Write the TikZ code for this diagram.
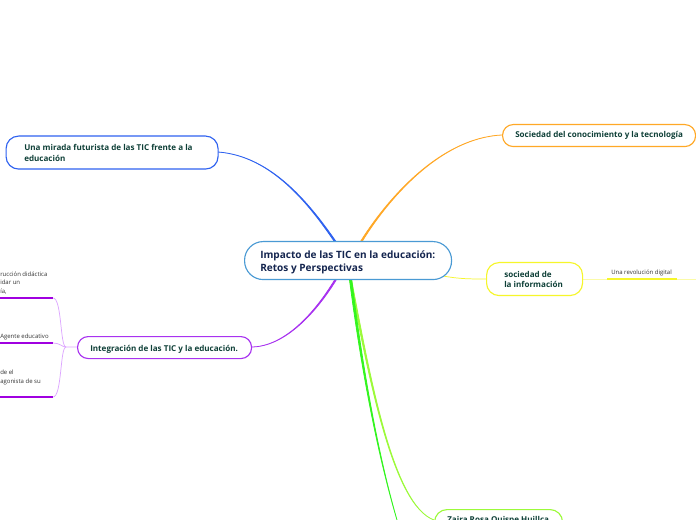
\documentclass[tikz,border=0pt]{standalone}
\usepackage{fontspec}
\usetikzlibrary{calc}
\setmainfont{Open Sans}
\definecolor{navy}{HTML}{14254F}
\definecolor{dgreen}{HTML}{0F4038}
\definecolor{cmain}{HTML}{4A9AD4}
\definecolor{cblue}{HTML}{2F62F0}
\definecolor{corange}{HTML}{FFA826}
\definecolor{cyellow}{HTML}{F6F62A}
\definecolor{cpurple}{HTML}{A832F0}
\definecolor{cgreen}{HTML}{33F51F}
\definecolor{clime}{HTML}{9CFA3A}
\definecolor{lpurple}{HTML}{DDA6FF}
\definecolor{lyellow}{HTML}{FBFBA8}
\definecolor{dpurple}{HTML}{A000E0}
\tikzset{
  topic/.style={draw=#1,rounded corners=9.4pt,line width=.85pt,fill=white,inner sep=0pt,anchor=north west},
  label/.style={font=\fontsize{6.05pt}{8.2pt}\selectfont\bfseries,anchor=west,inner sep=0pt,align=left,text=dgreen},
  small/.style={font=\fontsize{4.5pt}{6.4pt}\selectfont,anchor=west,inner sep=0pt,align=left,text=black!80},
  twig/.style={draw=#1,line width=.55pt},
  bar/.style={draw=#1,line width=1.2pt}
}
% tapered connector: colour, start, control 1, control 2, end, half width at start (x,y)
\newcommand{\taper}[6]{\filldraw[draw=#1,fill=#1,line width=.6pt,line join=round]
  ($(#2)+(#6)$) .. controls ($(#3)+.7*(#6)$) and ($(#4)+.25*(#6)$) .. (#5)
  .. controls ($(#4)-.25*(#6)$) and ($(#3)-.7*(#6)$) .. ($(#2)-(#6)$) -- cycle;}
\begin{document}
\begin{tikzpicture}[x=0.75pt,y=-0.75pt]
\useasboundingbox (0,0) rectangle (696,520);
\clip (0,0) rectangle (696,520);
\fill[white] (0,0) rectangle (696,520);
% connector ends
\coordinate (mBlue) at (335.5,242);
\coordinate (mOrange) at (361,242);
\coordinate (mYellow) at (443,276);
\coordinate (mPurple) at (336,279);
\coordinate (mGreen) at (350.5,279);
\coordinate (eBlue) at (218,152);
\coordinate (eOrange) at (502,135);
\coordinate (ePurple) at (251,347);
\coordinate (eGreen) at (397,520);
\coordinate (eLime) at (434,520);
\coordinate (pHub) at (66,347);
\coordinate (a1) at (53,298);
\coordinate (a2) at (53,343);
\coordinate (a3) at (53,397);
\coordinate (a0) at (0,298);
\coordinate (b0) at (0,343);
\coordinate (c0) at (0,397);
\coordinate (y1) at (607,279);
\coordinate (y2) at (677,279);
\coordinate (y3) at (696,279);
% connectors
\taper{cblue}{mBlue}{310,205}{272,156}{eBlue}{.8,0}
\taper{corange}{mOrange}{385,203}{438,138}{eOrange}{.8,0}
\draw[twig=cyellow] (mYellow) .. controls (460,279) and (470,279) .. (486,279);
\taper{cpurple}{mPurple}{316,312}{285,347}{ePurple}{.8,0}
\taper{clime}{mGreen}{370,380}{393,505}{eLime}{.9,0}
\taper{cgreen}{mGreen}{362,370}{378,455}{eGreen}{1.1,0}
% twigs
\draw[twig=lpurple] (77,347) -- (pHub) .. controls (60,347) and (62,298) .. (a1);
\draw[twig=lpurple] (pHub) .. controls (62,347) and (60,343) .. (a2);
\draw[twig=lpurple] (pHub) .. controls (60,347) and (62,397) .. (a3);
\draw[bar=dpurple] (a0) -- (a1);
\draw[bar=dpurple] (b0) -- (a2);
\draw[bar=dpurple] (c0) -- (a3);
\draw[twig=lyellow] (582,279) -- (y1);
\draw[bar=cyellow] (y1) -- (y2);
\draw[twig=lyellow] (y2) -- (y3);
% topic boxes
\path (244,241) node[topic=cmain,minimum width=207*.75pt,minimum height=38*.75pt,rounded corners=14pt] (main) {};
\path (5.5,135.5) node[topic=cblue,minimum width=212*.75pt,minimum height=33*.75pt] (mirada) {};
\path (502,124) node[topic=corange,minimum width=193*.75pt,minimum height=22*.75pt,rounded corners=8pt] (soc) {};
\path (486,262) node[topic=cyellow,minimum width=96*.75pt,minimum height=33*.75pt] (info) {};
\path (77,336) node[topic=cpurple,minimum width=174*.75pt,minimum height=22*.75pt,rounded corners=8pt] (integ) {};
\path (434,509) node[topic=clime,minimum width=128*.75pt,minimum height=33*.75pt] (zaira) {};
% labels
\node[label,text=navy,font=\fontsize{7.55pt}{9.75pt}\selectfont\bfseries] (tmain) at (260,262.5) {Impacto de las TIC en la educación:\\Retos y Perspectivas};
\node[label] (tmirada) at (24,153) {Una mirada futurista de las TIC frente a la\\educación};
\node[label] (tsoc) at (515,135.5) {Sociedad del conocimiento y la tecnología};
\node[label] (tinfo) at (504,279.5) {sociedad de\\la información};
\node[label] (tinteg) at (90,349) {Integración de las TIC y la educación.};
\node[label] (tzaira) at (447,520.5) {Zaira Rosa Quispe Huillca};
\node[small] (s1) at (0,283) {rucción didáctica\\idar un\\ía,};
\node[small] (s2) at (0,336.5) {Agente educativo};
\node[small] (s3) at (0,377.5) {de el\\agonista de su};
\node[small] (s4) at (611,272.7) {Una revolución digital};
\end{tikzpicture}
\end{document}
